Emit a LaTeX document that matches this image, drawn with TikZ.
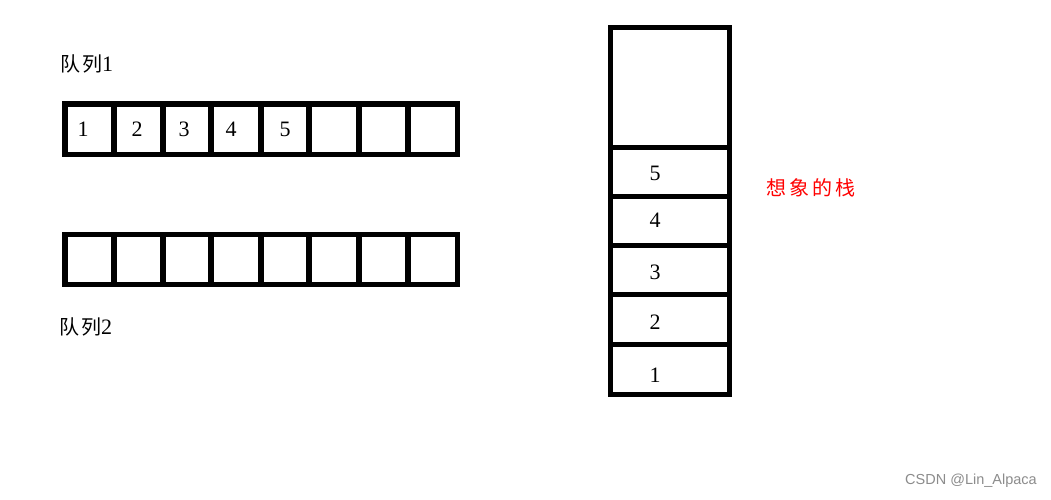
\documentclass[tikz,border=0pt]{standalone}
\usepackage{fontspec}
\setmainfont{Liberation Serif}
\newfontfamily\cjk{Noto Sans CJK SC}
\newfontfamily\wm{Liberation Sans}
\begin{document}
\begin{tikzpicture}[x=1pt,y=-1pt,
  cellbox/.style={draw=black,line width=5.5pt},
  num/.style={font=\fontsize{22}{26}\selectfont,inner sep=0pt,anchor=center},
  lab/.style={font=\cjk\fontsize{20}{24}\selectfont,inner sep=0pt,anchor=west}]
\useasboundingbox[fill=white] (0,0) rectangle (1051,499);
% queues
\foreach \a/\b [count=\i] in {65/114,114/163,163/211,211/261,261/309,309/359,359/408,408/457.5}{
  \draw[cellbox] (\a,104) rectangle (\b,154.5) coordinate (qa\i);
  \draw[cellbox] (\a,234.5) rectangle (\b,284.5) coordinate (qb\i);
}
\node[num] (n1) at (83,129) {1};
\node[num] (n2) at (137,129) {2};
\node[num] (n3) at (184,129) {3};
\node[num] (n4) at (231,129) {4};
\node[num] (n5) at (285,129) {5};
\node[lab] (l1) at (60,64) {队\hspace{2pt}列{\rmfamily\fontsize{22}{26}\selectfont 1}};
\node[lab] (l2) at (59,327) {队\hspace{2pt}列{\rmfamily\fontsize{22}{26}\selectfont 2}};
% stack
\draw[cellbox] (610.5,27.5) rectangle (729.5,147.5);
\foreach \t/\bt/\v/\ny in {147.5/196.5/5/173,196.5/245.5/4/220,245.5/294.5/3/272,294.5/344.5/2/322,344.5/394.5/1/375}{
  \draw[cellbox] (610.5,\t) rectangle (729.5,\bt);
  \node[num] (s\v) at (655,\ny) {\v};
}
\node[lab,text=red,font=\cjk\fontsize{20}{24}\selectfont] (st) at (766,188) {想\hspace{3pt}象\hspace{3pt}的\hspace{3pt}栈};
\node[anchor=east,inner sep=0pt,text=black!45,font=\wm\fontsize{14.5}{17}\selectfont] (wm) at (1037,481) {CSDN @Lin\_Alpaca};
\end{tikzpicture}
\end{document}
